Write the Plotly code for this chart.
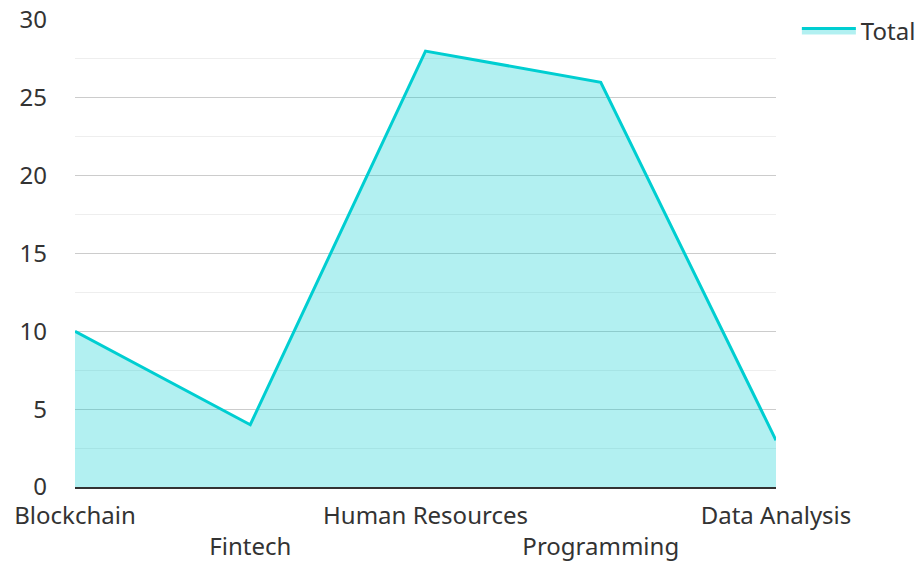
import plotly.graph_objects as go

categories = ["Blockchain", "Fintech", "Human Resources", "Programming", "Data Analysis"]
totals = [10, 4, 28, 26, 3]
y_ticks = [0, 5, 10, 15, 20, 25, 30]

tick_text = [c if i % 2 == 0 else "<br>" + c for i, c in enumerate(categories)]

fig = go.Figure()
fig.add_trace(go.Scatter(
    x=categories, y=totals, name="Total", mode="lines",
    line=dict(color="#00CED1", width=3),
    fill="tozeroy", fillcolor="rgba(0,206,209,0.3)",
))

fig.update_layout(
    width=917, height=562,
    margin=dict(l=75, r=141, t=20, b=75, autoexpand=False),
    paper_bgcolor="white", plot_bgcolor="white",
    font=dict(family="Noto Sans", size=24, color="#333333"),
    showlegend=True,
    legend=dict(xref="container", yref="container",
                x=0.869, y=0.985, xanchor="left", yanchor="top",
                font=dict(size=24, color="#333333"), itemwidth=54),
    xaxis=dict(
        type="category", range=[0, 4], showgrid=False, automargin=False,
        tickmode="array", tickvals=categories, ticktext=tick_text,
        tickangle=0, ticklabelstandoff=6,
        showline=True, linecolor="#333333", linewidth=2,
        ticks="", tickfont=dict(size=24, color="#333333"),
    ),
    yaxis=dict(
        range=[0, 30], tickvals=y_ticks, showgrid=True, automargin=False,
        gridcolor="#cccccc", gridwidth=1, zeroline=False,
        minor=dict(dtick=2.5, showgrid=True, gridcolor="#eeeeee", gridwidth=1),
        ticks="", ticklabelstandoff=27,
        tickfont=dict(size=24, color="#333333"),
    ),
)

fig.write_html(
    "out.html",
    config={"displayModeBar": False},
    post_script="document.body.style.margin='0';document.body.style.overflow='hidden';",
)
